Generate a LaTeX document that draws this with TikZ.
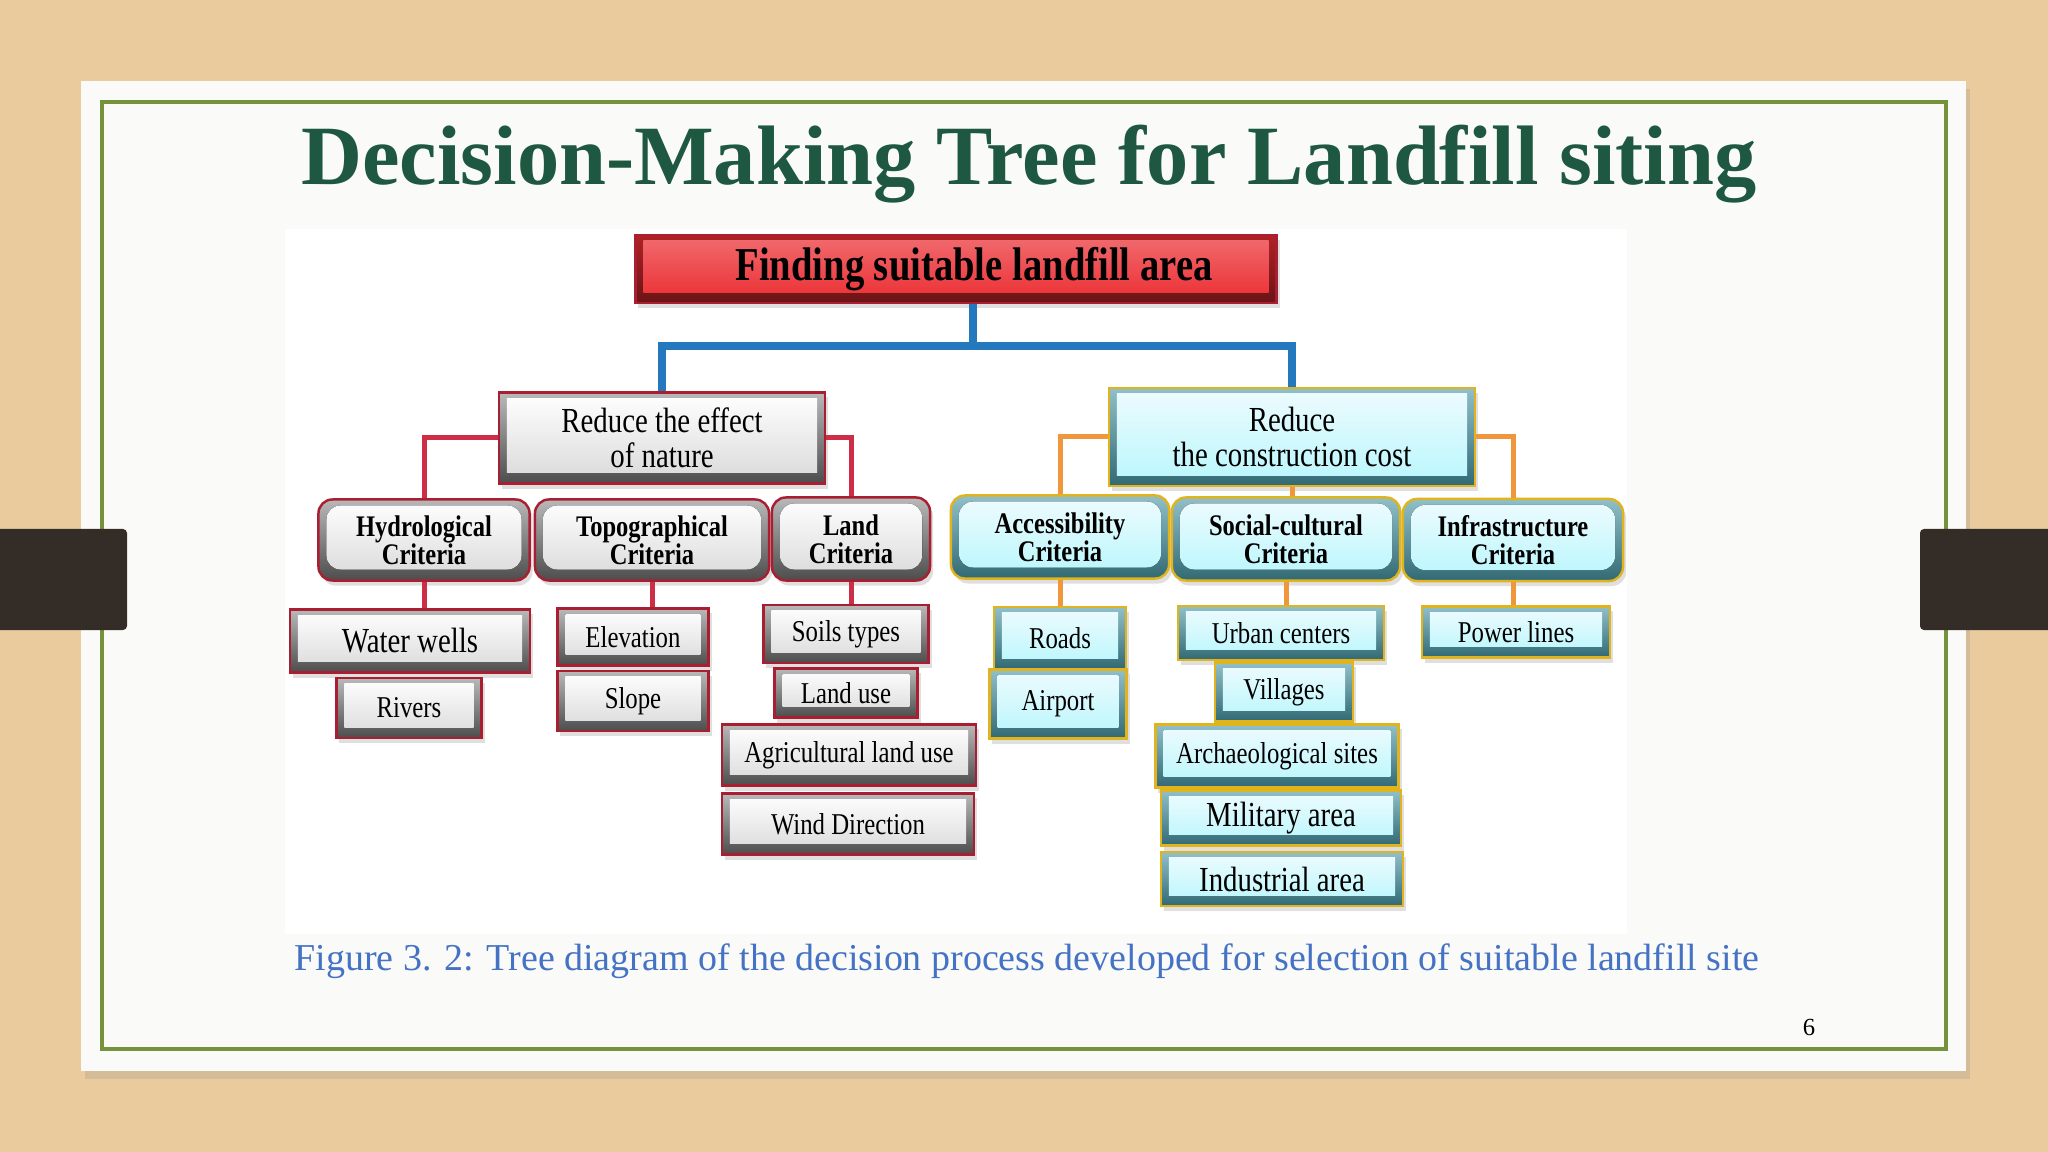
\documentclass[tikz,border=0pt]{standalone}
\usepackage{fontspec}
\setmainfont{Liberation Serif}
\newfontfamily\narrowfont[FakeStretch=0.82]{Liberation Serif}
\usetikzlibrary{shadows}

\definecolor{wood}{RGB}{234,203,158}
\definecolor{cardwhite}{RGB}{250,250,248}
\definecolor{tabbrown}{RGB}{52,44,38}
\definecolor{titlegreen}{RGB}{31,88,64}
\definecolor{framegreen}{RGB}{118,146,60}
\definecolor{capblue}{RGB}{68,114,196}
\definecolor{linkblue}{RGB}{35,120,190}
\definecolor{linkred}{RGB}{205,45,70}
\definecolor{linkorange}{RGB}{240,150,60}
\definecolor{rimred}{RGB}{170,30,50}
\definecolor{rimgold}{RGB}{225,180,30}
\definecolor{cyanlight}{RGB}{215,245,252}
\definecolor{cyandark}{RGB}{70,150,165}
\definecolor{rootred}{RGB}{235,45,50}

\tikzset{
  bevel/.style 2 args={path picture={\fill[top color=#1, bottom color=#2]
    ([shift={(0.08cm,-0.06cm)}]path picture bounding box.north west) rectangle
    ([shift={(-0.08cm,0.11cm)}]path picture bounding box.south east);}},
  box/.style={draw, line width=0.7pt, inner sep=0pt, align=center,
    drop shadow={opacity=0.25, shadow xshift=0.03cm, shadow yshift=-0.05cm}},
  rootbox/.style={box, draw=rimred, top color=rootred!75!black, bottom color=rootred!45!black,
    bevel={rootred!70!white}{rootred}, font=\narrowfont\bfseries\fontsize{13.4}{15}\selectfont},
  graybox/.style={box, draw=rimred, top color=gray!55, bottom color=black!70,
    bevel={white}{gray!30}},
  cyanbox/.style={box, draw=rimgold, top color=cyandark!60, bottom color=cyandark!70!black,
    bevel={cyanlight!40!white}{cyanlight!85!cyan}},
  goal/.style={font=\narrowfont\fontsize{10}{9.8}\selectfont},
  crit/.style={rounded corners=0.14cm, font=\narrowfont\bfseries\fontsize{8.5}{8}\selectfont},
  leaf/.style={font=\narrowfont\fontsize{8.6}{10}\selectfont},
  bigleaf/.style={font=\narrowfont\fontsize{10}{12}\selectfont},
  blueln/.style={draw=linkblue, line width=0.08cm},
  redln/.style={draw=linkred, line width=0.05cm},
  orangeln/.style={draw=linkorange, line width=0.05cm}
}

\begin{document}
\begin{tikzpicture}[x=0.01cm, y=-0.01cm]
\useasboundingbox (0,0) rectangle (2048,1152);
% slide
\fill[wood] (0,0) rectangle (2048,1152);
\fill[cardwhite, drop shadow={opacity=0.2, shadow xshift=0.04cm, shadow yshift=-0.08cm}] (81,81) rectangle (1966,1071);
\draw[framegreen, line width=1pt] (102,102) rectangle (1946,1049);
\fill[tabbrown, rounded corners=0.04cm] (-10,529) rectangle (127,630);
\fill[tabbrown, rounded corners=0.04cm] (1920,529) rectangle (2058,630);
\fill[white] (285,229) rectangle (1627,934);
\node[font=\bfseries\fontsize{24}{29}\selectfont, text=titlegreen] (title) at (1029,164) {Decision-Making Tree for Landfill siting};

% tree
\node[rootbox, minimum width=6.41cm, minimum height=0.68cm] (root) at (956,269) {\hspace*{0.36cm}Finding suitable landfill area};
\node[graybox, goal, minimum width=3.26cm, minimum height=0.91cm] (nat) at (662,438) {Reduce the effect\\of nature};
\node[cyanbox, goal, minimum width=3.66cm, minimum height=0.98cm] (cost) at (1292,437) {Reduce\\the construction cost};

\node[graybox, crit, minimum width=2.11cm, minimum height=0.81cm] (hyd) at (424,540) {Hydrological\\Criteria};
\node[graybox, crit, minimum width=2.34cm, minimum height=0.81cm] (topo) at (652,540) {Topographical\\Criteria};
\node[graybox, crit, minimum width=1.58cm, minimum height=0.83cm] (lnd) at (851,539) {Land\\Criteria};
\node[cyanbox, crit, minimum width=2.18cm, minimum height=0.83cm] (acc) at (1060,537) {Accessibility\\Criteria};
\node[cyanbox, crit, minimum width=2.28cm, minimum height=0.83cm] (soc) at (1286,539) {Social-cultural\\Criteria};
\node[cyanbox, crit, minimum width=2.20cm, minimum height=0.82cm] (inf) at (1513,540) {Infrastructure\\Criteria};

\node[graybox, bigleaf, minimum width=2.40cm, minimum height=0.63cm] (wells) at (410,641) {Water wells};
\node[graybox, leaf, minimum width=1.45cm, minimum height=0.60cm] (rivers) at (409,708) {Rivers};
\node[graybox, leaf, minimum width=1.51cm, minimum height=0.57cm] (elev) at (633,637) {Elevation};
\node[graybox, leaf, minimum width=1.51cm, minimum height=0.60cm] (slope) at (633,701) {Slope};
\node[graybox, leaf, minimum width=1.65cm, minimum height=0.58cm] (soils) at (846,634) {Soils types};
\node[graybox, leaf, minimum width=1.43cm, minimum height=0.49cm] (luse) at (846,693) {Land use};
\node[graybox, leaf, minimum width=2.54cm, minimum height=0.61cm] (agri) at (849,755) {Agricultural land use};
\node[graybox, leaf, minimum width=2.52cm, minimum height=0.61cm] (wind) at (848,824) {Wind Direction};

\node[cyanbox, leaf, minimum width=1.32cm, minimum height=0.62cm] (roads) at (1060,638) {Roads};
\node[cyanbox, leaf, minimum width=1.37cm, minimum height=0.69cm] (airp) at (1058,704) {Airport};
\node[cyanbox, leaf, minimum width=2.06cm, minimum height=0.54cm] (urban) at (1281,633) {Urban centers};
\node[cyanbox, leaf, minimum width=1.38cm, minimum height=0.59cm] (vill) at (1284,692) {Villages};
\node[cyanbox, leaf, minimum width=2.43cm, minimum height=0.63cm] (arch) at (1277,756) {Archaeological sites};
\node[cyanbox, bigleaf, minimum width=2.40cm, minimum height=0.55cm] (mil) at (1281,818) {Military area};
\node[cyanbox, bigleaf, minimum width=2.42cm, minimum height=0.54cm] (ind) at (1282,879) {Industrial area};
\node[cyanbox, leaf, minimum width=1.88cm, minimum height=0.51cm] (power) at (1516,632) {Power lines};

% links
\coordinate (fork) at (973,346);
\draw[blueln] (root.south -| fork) -- (fork) -| (nat.north);
\draw[blueln] (fork) -| (cost.north);
\draw[redln] (nat.west) -| (hyd.north);
\draw[redln] (nat.east) -| (lnd.north);
\draw[orangeln] (cost.west) -| (acc.north);
\draw[orangeln] (cost.east) -| (inf.north);
\draw[orangeln] (cost.south) -- (cost.south |- soc.north);
\draw[redln] (hyd.south) -- (hyd.south |- wells.north);
\draw[redln] (topo.south) -- (topo.south |- elev.north);
\draw[redln] (lnd.south) -- (lnd.south |- soils.north);
\draw[orangeln] (acc.south) -- (acc.south |- roads.north);
\draw[orangeln] (soc.south) -- (soc.south |- urban.north);
\draw[orangeln] (inf.south) -- (inf.south |- power.north);

\node[font=\fontsize{10.8}{13}\selectfont, text=capblue] (cap) at (1027,961) {Figure 3. 2: Tree diagram of the decision process developed for selection of suitable landfill site};
\node[font=\fontsize{7}{8}\selectfont] (pg) at (1809,1027) {6};
\end{tikzpicture}
\end{document}
